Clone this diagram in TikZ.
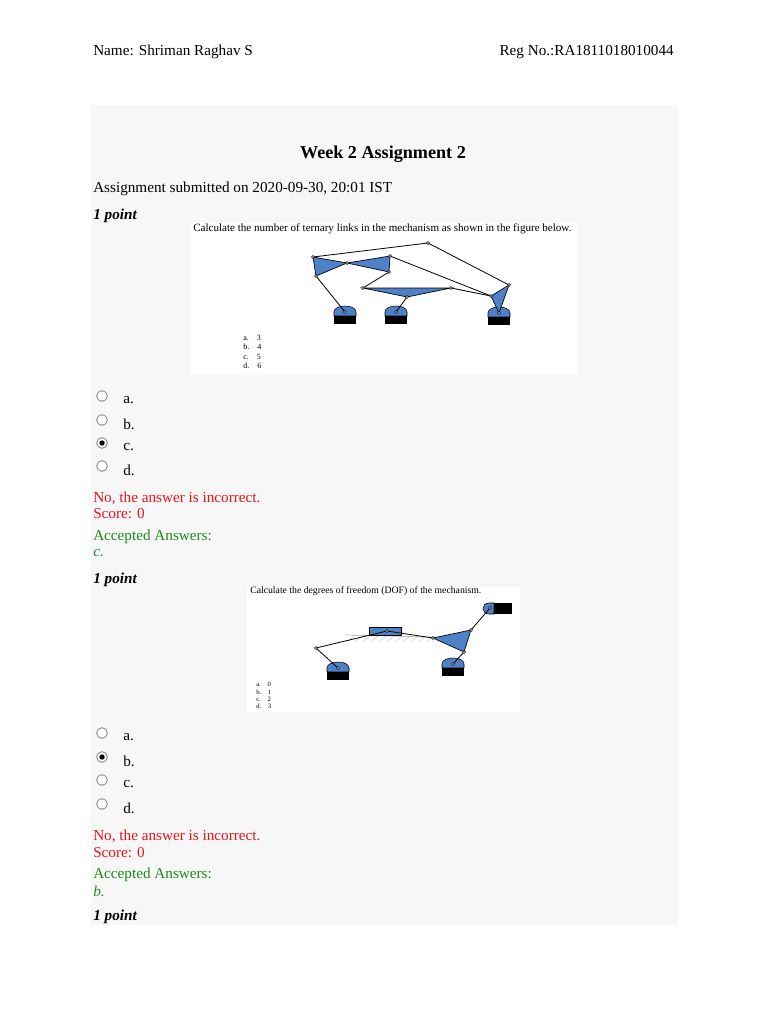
\documentclass[tikz,border=0pt]{standalone}
\usepackage{fontspec}
\setmainfont{Liberation Serif}
\definecolor{lb}{HTML}{4F81C7}
\definecolor{rd}{HTML}{E8151B}
\definecolor{gr}{HTML}{1A8A1A}
\tikzset{
 txt/.style={anchor=west,inner sep=0pt,font=\fontsize{11.4}{13}\selectfont},
 tiny/.style={anchor=west,inner sep=0pt,font=\fontsize{8.3}{9}\selectfont},
 tinier/.style={anchor=west,inner sep=0pt,font=\fontsize{7.3}{8}\selectfont},
 opt/.style={anchor=west,inner sep=0pt,font=\fontsize{6}{7}\selectfont},
 lnk/.style={line width=0.6pt},
 tri/.style={fill=lb,draw=black,line width=0.5pt},
 jt/.style={circle,draw,fill=white,inner sep=0pt,minimum size=2.2pt,line width=0.4pt},
 radio/.style={circle,draw=gray,line width=0.6pt,fill=white,minimum size=8pt,inner sep=0pt},
 grd/.pic={\fill[lb,draw=black,line width=0.4pt] (-11,4) -- (-11,0) .. controls (-11,-8) and (11,-8) .. (11,0) -- (11,4) -- cycle;
   \fill[black] (-11,4) rectangle (11,12);}
}
\begin{document}
\begin{tikzpicture}[x=0.75pt,y=-0.75pt]
\useasboundingbox (0,0) rectangle (768,1024);
\fill[white] (0,0) rectangle (768,1024);
\fill[black!3] (91,105) rectangle (678,925);
\node[txt] (name) at (93,52) {Name: Shriman Raghav S};
\node[txt,anchor=east] (reg) at (674,52) {Reg No.:RA1811018010044};
\node[inner sep=0pt,font=\fontsize{13.6}{15}\selectfont\bfseries] (title) at (383,154) {Week 2 Assignment 2};
\node[txt] (sub) at (93,189) {Assignment submitted on 2020-09-30, 20:01 IST};
\node[txt,font=\fontsize{11.4}{13}\selectfont\bfseries\itshape] (p1) at (93,216) {1 point};
% image 1
\fill[white] (190,222) rectangle (578,375);
\node[tiny] (q1) at (193,229) {Calculate the number of ternary links in the mechanism as shown in the figure below.};
\coordinate (T) at (428,243);
\coordinate (A1) at (313,257); \coordinate (M) at (347,263); \coordinate (A2) at (316,276);
\coordinate (B1) at (390,256); \coordinate (B2) at (389,272);
\coordinate (C1) at (363,288); \coordinate (C2) at (451,288); \coordinate (C3) at (407,297);
\coordinate (D1) at (509,285); \coordinate (D2) at (491,296); \coordinate (D3) at (499,313);
\coordinate (G1) at (345,312); \coordinate (G2) at (396,312);
\pic at (G1) {grd}; \pic at (G2) {grd}; \pic at (D3) {grd};
\draw[lnk] (T) -- (A1); \draw[lnk] (T) -- (D1); \draw[lnk] (B1) -- (D2); \draw[lnk] (C2) -- (D2);
\draw[lnk] (A2) -- (G1); \draw[lnk] (B2) -- (C1); \draw[lnk] (C3) -- (G2);
\draw[tri] (A1) -- (M) -- (A2) -- cycle;
\draw[tri] (M) -- (B1) -- (B2) -- cycle;
\draw[tri] (C1) -- (C2) -- (C3) -- cycle;
\draw[tri] (D1) -- (D2) -- (D3) -- cycle;
\foreach \p in {T,A1,M,A2,B1,B2,C1,C2,C3,D1,D2,D3,G1,G2} \node[jt] at (\p) {};
\node[opt] (o1a) at (243,338) {a.\quad 3};
\node[opt] (o1b) at (243,347) {b.\quad 4};
\node[opt] (o1c) at (243,357) {c.\quad 5};
\node[opt] (o1d) at (243,366) {d.\quad 6};
% answers 1
\foreach \y/\l in {396/a,420/b,443/c,466/d} {\node[radio] (r1\l) at (102,\y) {}; \node[txt] at (123,\y+4) {\l.};}
\fill (r1c) circle (2pt);
\node[txt,text=rd] (w1) at (93,498) {No, the answer is incorrect.};
\node[txt,text=rd] (s1) at (93,514) {Score: 0};
\node[txt,text=gr] (acc1) at (93,537) {Accepted Answers:};
\node[txt,text=gr,font=\fontsize{11.4}{13}\selectfont\itshape] (ans1) at (93,553) {c.};
\node[txt,font=\fontsize{11.4}{13}\selectfont\bfseries\itshape] (p2) at (93,580) {1 point};
% image 2
\fill[white] (247,587) rectangle (520,712);
\node[tinier] (q2) at (250,591) {Calculate the degrees of freedom (DOF) of the mechanism.};
\draw[gray!60,line width=0.5pt] (345,635) -- (432,637);
\foreach \i in {0,...,10} \draw[gray!50,line width=0.3pt] (348+8*\i,641) -- (354+8*\i,636);
\fill[lb,draw=black,line width=0.5pt] (369,627) rectangle (401,635);
\coordinate (S) at (387,631); \coordinate (L) at (316,648);
\coordinate (H1) at (338,668); \coordinate (H2) at (453,664);
\coordinate (E1) at (433,638); \coordinate (E2) at (471,630); \coordinate (E3) at (464,652);
\coordinate (P) at (490,608);
\pic at (H1) {grd}; \pic at (H2) {grd};
\fill[black] (493,603) rectangle (512,614);
\fill[lb,draw=black,line width=0.4pt] (494,603) -- (489,603) .. controls (481,603) and (481,614) .. (489,614) -- (494,614) -- cycle;
\draw[lnk] (L) -- (S); \draw[lnk] (S) -- (E1); \draw[lnk] (L) -- (H1);
\draw[lnk] (E2) -- (P); \draw[lnk] (E3) -- (H2);
\draw[tri] (E1) -- (E2) -- (E3) -- cycle;
\foreach \p in {S,L,H1,H2,E1,E2,E3,P} \node[jt] at (\p) {};
\node[opt,font=\fontsize{5}{6}\selectfont] (o2a) at (256,684) {a.\quad 0};
\node[opt,font=\fontsize{5}{6}\selectfont] (o2b) at (256,692) {b.\quad 1};
\node[opt,font=\fontsize{5}{6}\selectfont] (o2c) at (256,699) {c.\quad 2};
\node[opt,font=\fontsize{5}{6}\selectfont] (o2d) at (256,706) {d.\quad 3};
% answers 2
\foreach \y/\l in {733/a,757/b,780/c,804/d} {\node[radio] (r2\l) at (102,\y) {}; \node[txt] at (123,\y+4) {\l.};}
\fill (r2b) circle (2pt);
\node[txt,text=rd] (w2) at (93,836) {No, the answer is incorrect.};
\node[txt,text=rd] (s2) at (93,853) {Score: 0};
\node[txt,text=gr] (acc2) at (93,875) {Accepted Answers:};
\node[txt,text=gr,font=\fontsize{11.4}{13}\selectfont\itshape] (ans2) at (93,891) {b.};
\node[txt,font=\fontsize{11.4}{13}\selectfont\bfseries\itshape] (p3) at (93,917) {1 point};
\end{tikzpicture}
\end{document}
